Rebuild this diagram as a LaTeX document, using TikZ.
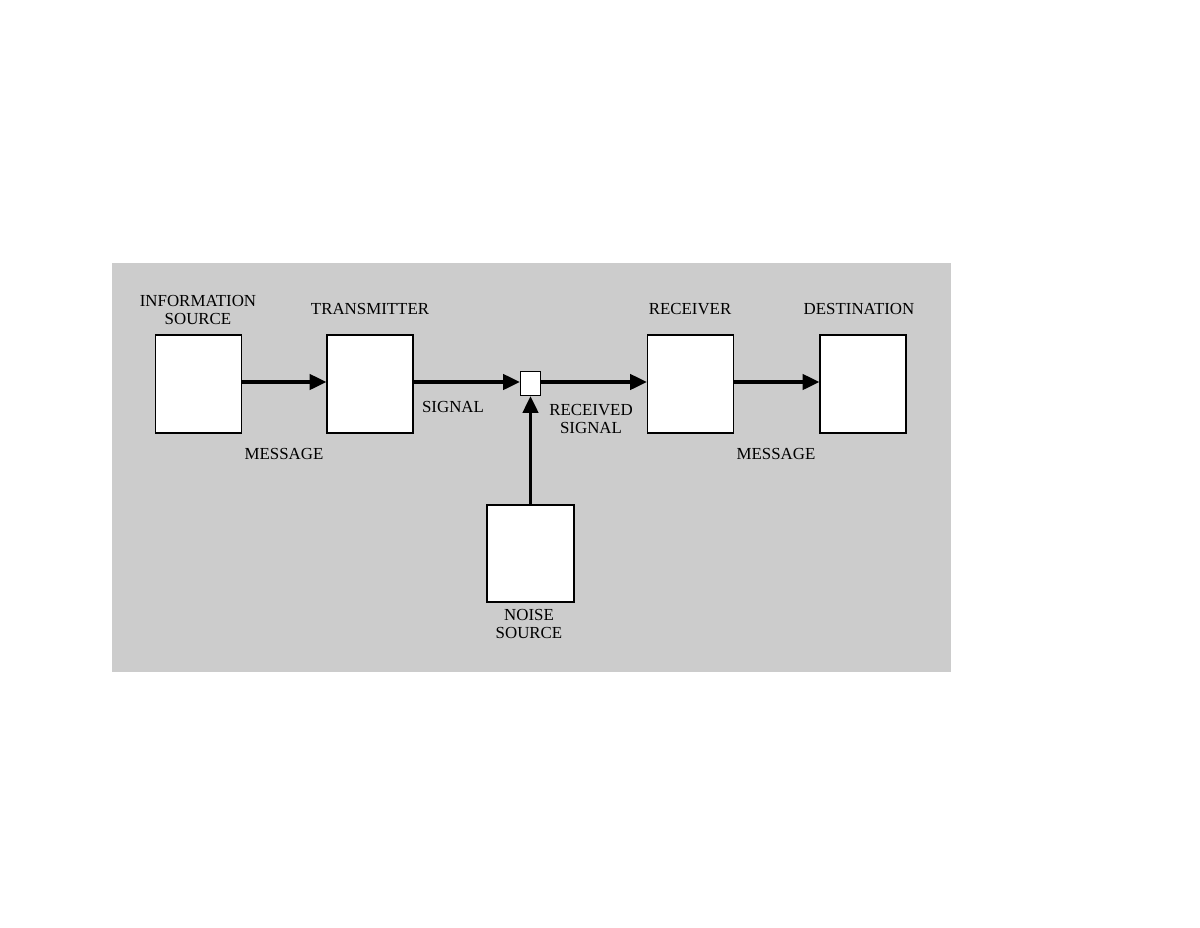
\documentclass[tikz,border=0pt]{standalone}
\usepackage{fontspec}
\setmainfont{Liberation Serif}
\usetikzlibrary{arrows.meta}
\begin{document}
\begin{tikzpicture}[x=0.025cm,y=-0.025cm,
  blk/.style={draw=black,fill=white,line width=0.8pt,minimum width=2.15cm,minimum height=2.45cm,inner sep=0pt},
  lbl/.style={font=\fontsize{12}{13}\selectfont,align=center,inner sep=0pt},
  arr/.style={line width=2.2pt,-{Triangle[length=12pt,width=11pt]}}]
\useasboundingbox (0,0) rectangle (1200,927);
\fill[white] (0,0) rectangle (1200,927);
\fill[black!20] (112,263) rectangle (951,672);
\node[blk] (is) at (198.5,384) {};
\node[blk] (tx) at (370,384) {};
\node[blk] (rx) at (690.5,384) {};
\node[blk] (ds) at (863,384) {};
\node[blk,minimum width=2.175cm,minimum height=2.425cm] (ns) at (530.5,553.5) {};
\node[draw=black,fill=white,line width=0.8pt,minimum width=0.5cm,minimum height=0.6cm,inner sep=0pt] (nd) at (530.5,383.5) {};
\draw[arr] (is.east|-0,382) -- (tx.west|-0,382);
\draw[arr] (tx.east|-0,382) -- (nd.west|-0,382);
\draw[arr] (nd.east|-0,382) -- (rx.west|-0,382);
\draw[arr] (rx.east|-0,382) -- (ds.west|-0,382);
\draw[arr] (ns.north) -- (nd.south);
\node[lbl] (t1) at (198,310) {INFORMATION\\SOURCE};
\node[lbl] (t2) at (370,309) {TRANSMITTER};
\node[lbl] (t3) at (690,309) {RECEIVER};
\node[lbl] (t4) at (859,309) {DESTINATION};
\node[lbl] (t5) at (284,454) {MESSAGE};
\node[lbl] (t6) at (453,407) {SIGNAL};
\node[lbl] (t7) at (591,419) {RECEIVED\\SIGNAL};
\node[lbl] (t8) at (776,454) {MESSAGE};
\node[lbl] (t9) at (529,624) {NOISE\\SOURCE};
\end{tikzpicture}
\end{document}
